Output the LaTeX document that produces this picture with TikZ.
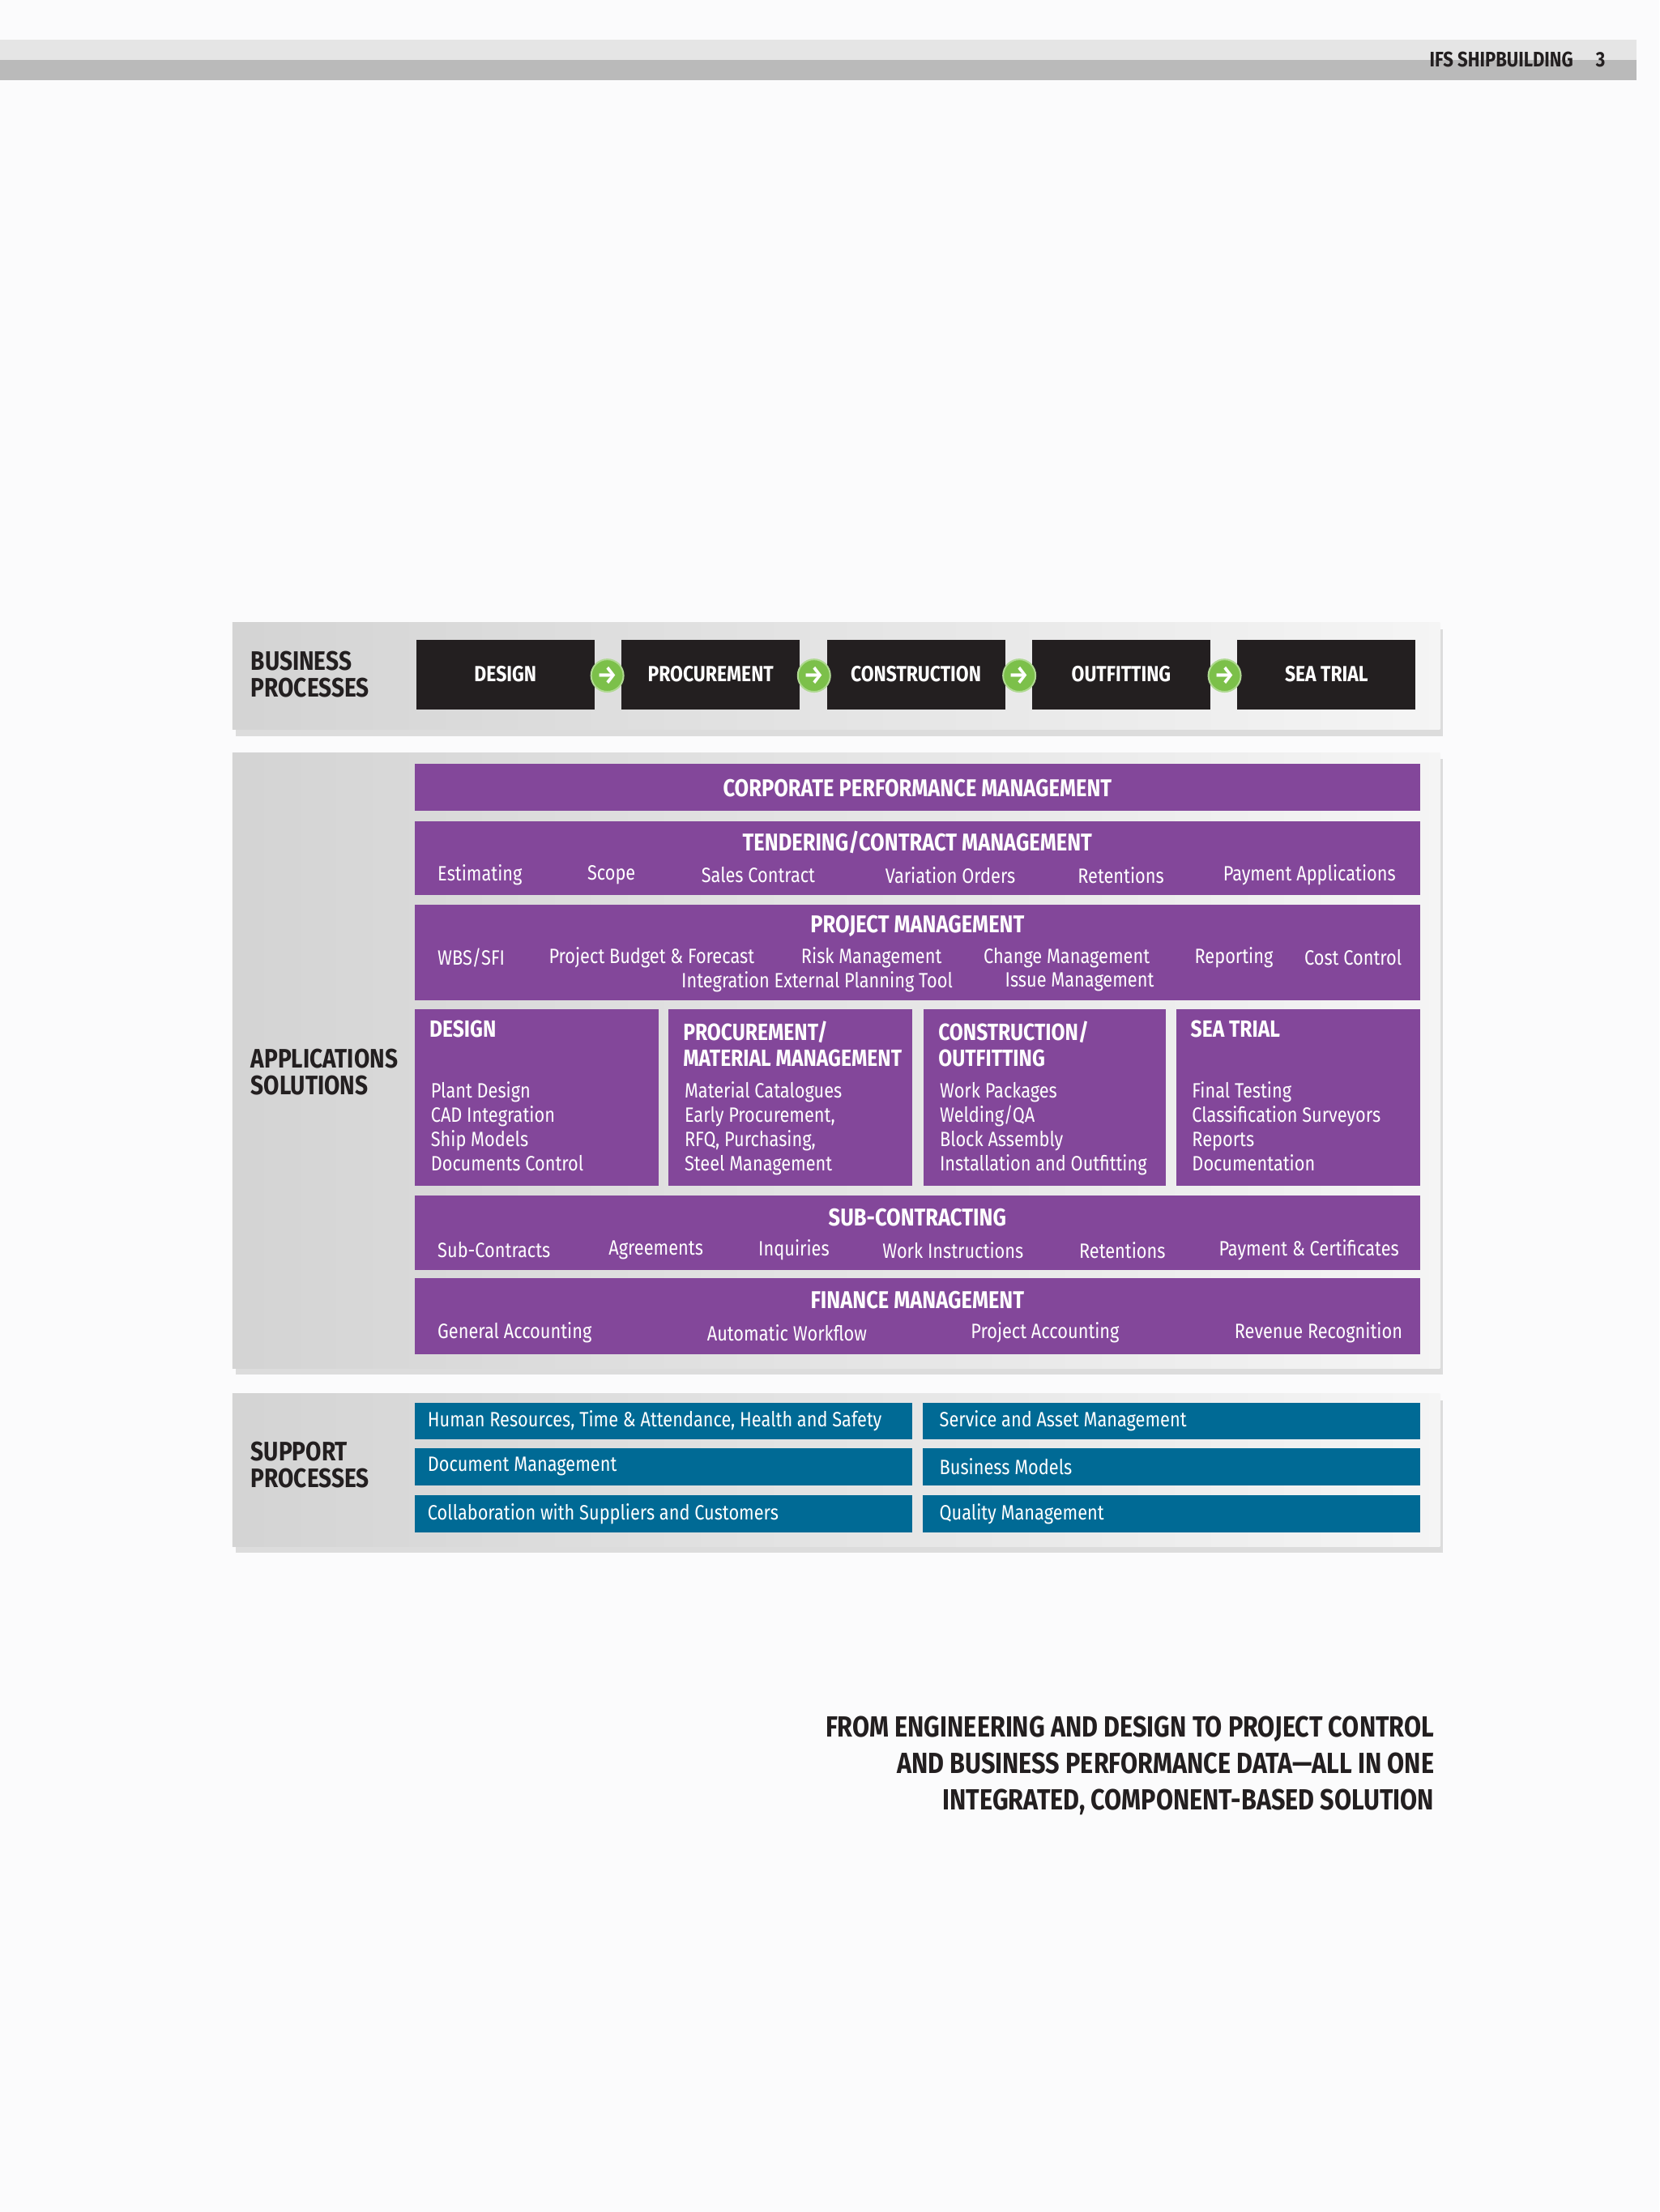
\documentclass[tikz,border=0pt]{standalone}
\usepackage{fontspec}
\setmainfont{Fira Sans}[FakeStretch=0.85]
\usetikzlibrary{shadows}
\definecolor{pur}{HTML}{83479A}
\definecolor{blu}{HTML}{006A95}
\definecolor{grn}{HTML}{7CC04A}
\definecolor{bg}{HTML}{FBFBFC}
\definecolor{dk}{HTML}{231F20}
\begin{document}
\begin{tikzpicture}[x=0.88pt,y=-0.88pt,
 panel/.style={left color=black!17,right color=black!4,draw=none,drop shadow={shadow xshift=2pt,shadow yshift=-4pt,opacity=0.25}},
 lab/.style={anchor=west,align=left,font=\fontsize{16.5}{16.5}\selectfont\bfseries,text=dk},
 bp/.style={fill=dk,draw=none},
 bpt/.style={text=white,font=\fontsize{13.5}{15}\selectfont\bfseries},
 pb/.style={fill=pur,draw=none},
 ttl/.style={text=white,font=\fontsize{15}{16}\selectfont\bfseries},
 it/.style={text=white,anchor=west,font=\fontsize{12.8}{14}\selectfont},
 sb/.style={fill=blu,draw=none},
 arr/.style={circle,fill=grn,draw=grn!60!white,line width=1pt,minimum size=20pt,inner sep=0pt,text=white,font=\fontsize{16}{16}\selectfont\bfseries}]
\useasboundingbox (0,0) rectangle (1164,1552);
\fill[bg] (0,0) rectangle (1164,1552);
% header bar
\fill[black!10] (0,28) rectangle (1148,42);
\fill[black!27] (0,42) rectangle (1148,56);
\node[anchor=east,text=dk,font=\fontsize{13}{14}\selectfont\bfseries] (hdr) at (1130,42) {IFS SHIPBUILDING\hspace{14pt}3};
% business processes
\path[panel] (163,437) rectangle (1010,512);
\node[lab] (lbp) at (172,473) {BUSINESS\\PROCESSES};
\foreach \n/\x/\t in {b1/292/DESIGN,b2/436/PROCUREMENT,b3/580/CONSTRUCTION,b4/724/OUTFITTING,b5/868/SEA TRIAL}{
  \fill[bp] (\x,449) rectangle ++(125,49);
  \node[bpt] (\n) at (\x+62.5,473) {\t};
}
\foreach \n/\x in {a1/426,a2/571,a3/715,a4/859}
  \node[arr] (\n) at (\x,474) {→};
% applications
\path[panel] (163,528) rectangle (1010,960);
\node[lab] (las) at (172,752) {APPLICATIONS\\SOLUTIONS};
\fill[pb] (291,536) rectangle (996,569);
\node[ttl] (cpm) at (643.5,553) {CORPORATE PERFORMANCE MANAGEMENT};
\fill[pb] (291,576) rectangle (996,628);
\node[ttl] (tcm) at (643.5,591) {TENDERING/CONTRACT MANAGEMENT};
\foreach \x/\t [count=\i] in {303/Estimating,408/Scope,488/Sales Contract,617/Variation Orders,752/Retentions,854/Payment Applications}
  \node[it] (t\i) at (\x,614) {\t};
\fill[pb] (291,635) rectangle (996,702);
\node[ttl] (pm) at (643.5,650) {PROJECT MANAGEMENT};
\foreach \x/\t [count=\i] in {303/{WBS/SFI},381/Project Budget \& Forecast,558/Risk Management,686/Change Management,834/Reporting,911/Cost Control}
  \node[it] (p\i) at (\x,672) {\t};
\node[it] (p7) at (474,689) {Integration External Planning Tool};
\node[it] (p8) at (701,689) {Issue Management};
% four boxes
\foreach \x/\w/\ttx/\a/\b/\c/\d [count=\i] in {
 291/171/{DESIGN}/{Plant Design}/{CAD Integration}/{Ship Models}/{Documents Control},
 469/171/{PROCUREMENT/\\MATERIAL MANAGEMENT}/{Material Catalogues}/{Early Procurement,}/{RFQ, Purchasing,}/{Steel Management},
 648/170/{CONSTRUCTION/\\OUTFITTING}/{Work Packages}/{Welding/QA}/{Block Assembly}/{Installation and Outfitting},
 825/171/{SEA TRIAL}/{Final Testing}/{Classification Surveyors}/{Reports}/{Documentation}}{
  \fill[pb] (\x,708) rectangle ++(\w,124);
  \node[ttl,anchor=north west,align=left,inner sep=0pt,font=\fontsize{14.5}{16.5}\selectfont\bfseries] (m\i) at (\x+10,716) {\ttx};
  \node[it,anchor=north west,align=left,inner sep=0pt,font=\fontsize{12.8}{15}\selectfont] (mi\i) at (\x+11,759) {\a\\\b\\\c\\\d};
}
\fill[pb] (291,839) rectangle (996,891);
\node[ttl] (sc) at (643.5,854) {SUB-CONTRACTING};
\foreach \x/\t [count=\i] in {303/Sub-Contracts,423/Agreements,528/Inquiries,615/Work Instructions,753/Retentions,851/Payment \& Certificates}
  \node[it] (s\i) at (\x,877) {\t};
\fill[pb] (291,897) rectangle (996,950);
\node[ttl] (fm) at (643.5,912) {FINANCE MANAGEMENT};
\foreach \x/\t [count=\i] in {303/General Accounting,492/Automatic Workflow,677/Project Accounting,862/Revenue Recognition}
  \node[it] (f\i) at (\x,935) {\t};
% support
\path[panel] (163,978) rectangle (1010,1085);
\node[lab] (lsp) at (172,1028) {SUPPORT\\PROCESSES};
\foreach \y/\l/\r [count=\i] in {984/{Human Resources, Time \& Attendance, Health and Safety}/{Service and Asset Management},
  1016/{Document Management}/{Business Models},1049/{Collaboration with Suppliers and Customers}/{Quality Management}}{
  \fill[sb] (291,\y) rectangle (640,\y+26);
  \fill[sb] (647,\y) rectangle (996,\y+26);
  \node[it] (sl\i) at (296,\y+13) {\l};
  \node[it] (sr\i) at (655,\y+13) {\r};
}
\node[anchor=north east,align=right,text=dk,font=\fontsize{18}{22.5}\selectfont\bfseries] (cap) at (1010,1200)
 {FROM ENGINEERING AND DESIGN TO PROJECT CONTROL\\AND BUSINESS PERFORMANCE DATA—ALL IN ONE\\INTEGRATED, COMPONENT-BASED SOLUTION};
\end{tikzpicture}
\end{document}
